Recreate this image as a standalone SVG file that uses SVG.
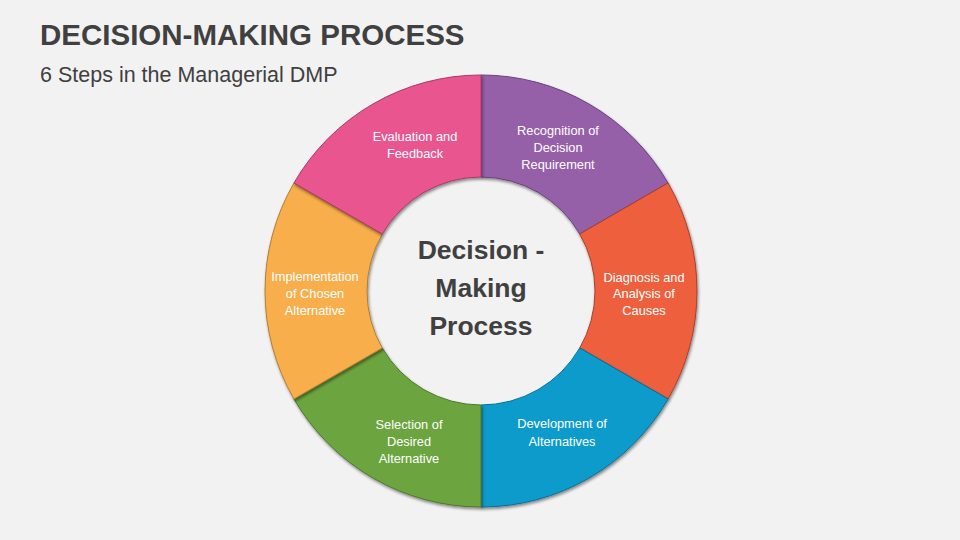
<svg xmlns="http://www.w3.org/2000/svg" width="960" height="540" viewBox="0 0 960 540">
<defs>
<filter id="sh" x="-10%" y="-10%" width="120%" height="120%">
<feGaussianBlur in="SourceAlpha" stdDeviation="1.5"/>
<feOffset dx="1" dy="1.5" result="b"/>
<feComponentTransfer><feFuncA type="linear" slope="0.45"/></feComponentTransfer>
<feMerge><feMergeNode/><feMergeNode in="SourceGraphic"/></feMerge>
</filter>
</defs>
<style>
.title{font-family:"Liberation Sans",Arial,sans-serif;font-weight:bold;font-size:29.5px;fill:#404040}
.sub{font-family:"Liberation Sans",Arial,sans-serif;font-size:21.5px;fill:#404040}
.seg{stroke-width:1;stroke-linejoin:round;filter:url(#sh)}
.lbl{font-family:"Liberation Sans",Arial,sans-serif;font-size:12.8px;fill:#ffffff;text-anchor:middle}
.ctr{font-family:"Liberation Sans",Arial,sans-serif;font-weight:bold;font-size:26.5px;fill:#404040;text-anchor:middle}
</style>
<rect width="960" height="540" fill="#f2f2f2"/>
<text class="title" x="40" y="45">DECISION-MAKING PROCESS</text>
<text class="sub" x="40" y="82">6 Steps in the Managerial DMP</text>
<g id="connectors"></g>
<g id="step1">
<path class="seg" fill="#9560A8" stroke="#6b4080" d="M481,75 A216,216 0 0 1 668.06,183 L579.73,234 A114,114 0 0 0 481,177 Z"/>
<text class="lbl" x="558" y="135">Recognition of</text>
<text class="lbl" x="558" y="152">Decision</text>
<text class="lbl" x="558" y="169">Requirement</text>
</g>
<g id="step2">
<path class="seg" fill="#EE5E3D" stroke="#a8402a" d="M668.06,183 A216,216 0 0 1 668.06,399 L579.73,348 A114,114 0 0 0 579.73,234 Z"/>
<text class="lbl" x="644" y="282">Diagnosis and</text>
<text class="lbl" x="644" y="298">Analysis of</text>
<text class="lbl" x="644" y="315">Causes</text>
</g>
<g id="step3">
<path class="seg" fill="#0A9BCB" stroke="#07709a" d="M668.06,399 A216,216 0 0 1 481,507 L481,405 A114,114 0 0 0 579.73,348 Z"/>
<text class="lbl" x="562" y="428">Development of</text>
<text class="lbl" x="562" y="446">Alternatives</text>
</g>
<g id="step4">
<path class="seg" fill="#6CA540" stroke="#4c782c" d="M481,507 A216,216 0 0 1 293.94,399 L382.27,348 A114,114 0 0 0 481,405 Z"/>
<text class="lbl" x="409" y="429">Selection of</text>
<text class="lbl" x="409" y="446">Desired</text>
<text class="lbl" x="409" y="463">Alternative</text>
</g>
<g id="step5">
<path class="seg" fill="#F7AE4B" stroke="#b57d30" d="M293.94,399 A216,216 0 0 1 293.94,183 L382.27,234 A114,114 0 0 0 382.27,348 Z"/>
<text class="lbl" x="315" y="281">Implementation</text>
<text class="lbl" x="315" y="298">of Chosen</text>
<text class="lbl" x="315" y="315">Alternative</text>
</g>
<g id="step6">
<path class="seg" fill="#E8558F" stroke="#a83a66" d="M293.94,183 A216,216 0 0 1 481,75 L481,177 A114,114 0 0 0 382.27,234 Z"/>
<text class="lbl" x="415" y="141">Evaluation and</text>
<text class="lbl" x="415" y="158">Feedback</text>
</g>
<g id="center">
<text class="ctr" x="481" y="259">Decision -</text>
<text class="ctr" x="481" y="297">Making</text>
<text class="ctr" x="481" y="335">Process</text>
</g>
</svg>
